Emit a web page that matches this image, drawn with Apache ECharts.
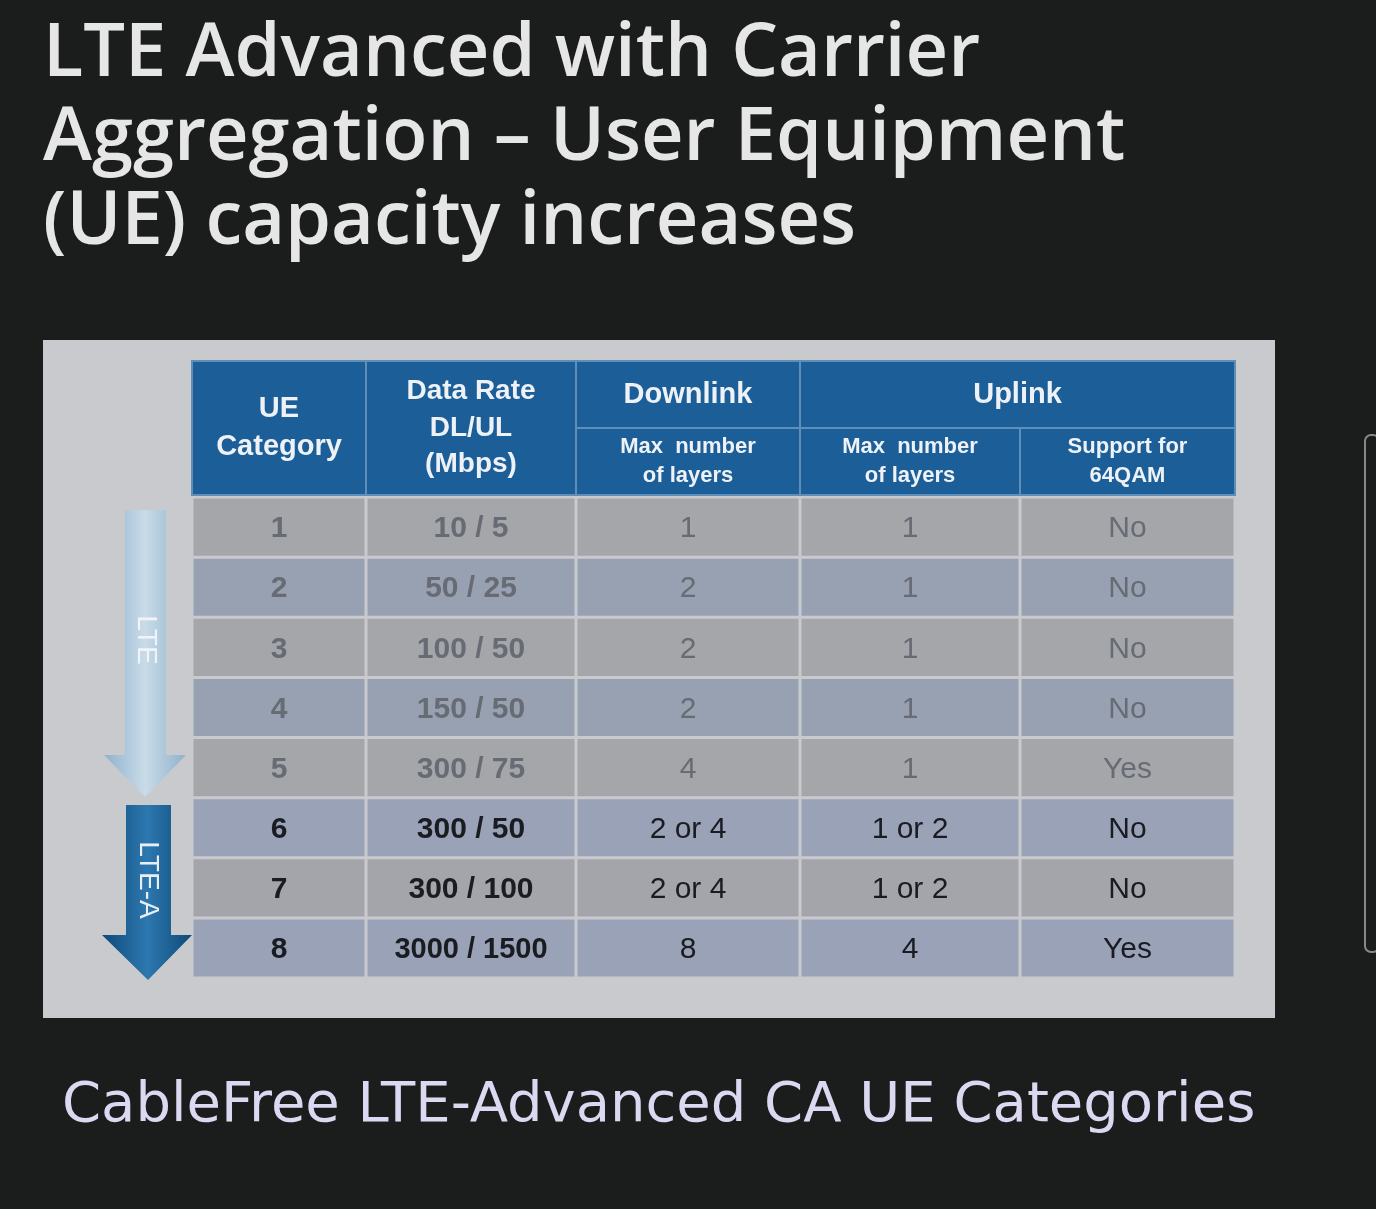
<!DOCTYPE html>
<html><head><meta charset="utf-8">
<script src="https://cdn.jsdelivr.net/npm/echarts@6/dist/echarts.min.js"></script>
<style>html,body{margin:0;background:#1b1d1c}#c{width:1376px;height:1209px}</style>
</head><body><div id="c"></div>
<script>
const titleLines = ['LTE Advanced with Carrier','Aggregation – User Equipment','(UE) capacity increases'];
const caption = 'CableFree LTE-Advanced CA UE Categories';
const categories = ['1','2','3','4','5','6','7','8'];
const dataRate = ['10 / 5','50 / 25','100 / 50','150 / 50','300 / 75','300 / 50','300 / 100','3000 / 1500'];
const dlLayers = ['1','2','2','2','4','2 or 4','2 or 4','8'];
const ulLayers = ['1','1','1','1','1','1 or 2','1 or 2','4'];
const qam64 = ['No','No','No','No','Yes','No','No','Yes'];
const generation = ['LTE','LTE','LTE','LTE','LTE','LTE-A','LTE-A','LTE-A'];
const colWidths = [174,210,224,220,215];
const headerRows = ['top','sub'];
const headerCells = [
  {c0:0,c1:1,r0:0,r1:1,text:'UE\nCategory',size:29},
  {c0:1,c1:2,r0:0,r1:1,text:'Data Rate\nDL/UL\n(Mbps)',size:28},
  {c0:2,c1:3,r0:0,r1:0,text:'Downlink',size:29},
  {c0:3,c1:5,r0:0,r1:0,text:'Uplink',size:29},
  {c0:2,c1:3,r0:1,r1:1,text:'Max  number\nof layers',size:22},
  {c0:3,c1:4,r0:1,r1:1,text:'Max  number\nof layers',size:22},
  {c0:4,c1:5,r0:1,r1:1,text:'Support for\n64QAM',size:22}
];
const edges=[0];colWidths.forEach(w=>edges.push(edges[edges.length-1]+w));
const total=edges[edges.length-1];
const cols=[categories,dataRate,dlLayers,ulLayers,qam64];
const bodyData=[], bodyText=[];
categories.forEach((_,r)=>cols.forEach((col,c)=>{bodyData.push([edges[c],edges[c+1],r,c]);bodyText.push(col[r]);}));
const headData=headerCells.map(h=>[edges[h.c0],edges[h.c1],h.r0,h.r1,h.size]);
const rowFill=['#a4a6aa','#98a1b2','#a4a6aa','#98a1b2','#a4a6aa','#99a2b7','#a3a5aa','#99a2b7'];
const chart=echarts.init(document.getElementById('c'));
const G=3;
chart.setOption({
  backgroundColor:'#1b1d1c',
  title:{text:titleLines.join('\n'),left:38,top:8,textStyle:{color:'#e6e6e6',fontSize:74,fontWeight:600,fontFamily:'Open Sans',lineHeight:84}},
  graphic:[
    {type:'rect',shape:{x:43,y:340,width:1232,height:678},style:{fill:'#c8cacd'},z:-10},
    {type:'text',left:62,top:1078,style:{text:caption,fill:'#dcd8f2',fontSize:56,fontFamily:'DejaVu Sans'}},
    {type:'rect',shape:{x:1365,y:435,width:14,height:517,r:6},style:{fill:'none',stroke:'#888',lineWidth:2}},
    {type:'polygon',shape:{points:[[125,510],[166,510],[166,755],[186,755],[145,797],[104,755],[125,755]]},style:{fill:new echarts.graphic.LinearGradient(0,0,1,0,[{offset:0,color:'#8fb2cc'},{offset:0.5,color:'#c9dbe8'},{offset:1,color:'#8fb2cc'}])}},
    {type:'polygon',shape:{points:[[126,805],[171,805],[171,935],[192,935],[148,980],[102,935],[126,935]]},style:{fill:new echarts.graphic.LinearGradient(0,0,1,0,[{offset:0,color:'#0e4a78'},{offset:0.5,color:'#2d78b0'},{offset:1,color:'#0e4a78'}])}},
    {type:'text',x:146,y:640,rotation:-Math.PI/2,style:{text:'LTE',fill:'#f0f4f8',fontSize:28,fontFamily:'Liberation Sans',align:'center',verticalAlign:'middle'}},
    {type:'text',x:148,y:880,rotation:-Math.PI/2,style:{text:'LTE-A',fill:'#e8eef5',fontSize:28,fontFamily:'Liberation Sans',align:'center',verticalAlign:'middle'}}
  ],
  grid:[{left:192,top:361,width:total,height:134},{left:192,top:497,width:total,height:481}],
  xAxis:[{gridIndex:0,type:'value',min:0,max:total,show:false},{gridIndex:1,type:'value',min:0,max:total,show:false}],
  yAxis:[{gridIndex:0,type:'category',data:headerRows,inverse:true,show:false},{gridIndex:1,type:'category',data:categories,inverse:true,show:false}],
  series:[
    {type:'custom',xAxisIndex:0,yAxisIndex:0,data:headData,renderItem:(p,api)=>{
      const a=api.coord([api.value(0),api.value(2)]),b=api.coord([api.value(1),api.value(3)]);
      const hh=api.size([0,1])[1];
      const x=a[0],y=a[1]-hh/2,w=b[0]-a[0],h=b[1]-a[1]+hh;
      const sz=api.value(4);
      return {type:'group',children:[
        {type:'rect',shape:{x:x,y:y,width:w,height:h},style:{fill:'#1c5e98',stroke:'#5f8fb9',lineWidth:2}},
        {type:'text',style:{x:x+w/2,y:y+h/2,text:headerCells[p.dataIndex].text,fill:'#eef2f6',fontSize:sz,fontWeight:'bold',fontFamily:'Liberation Sans',align:'center',verticalAlign:'middle',lineHeight:sz*1.3}}
      ]};
    }},
    {type:'custom',xAxisIndex:1,yAxisIndex:1,data:bodyData,renderItem:(p,api)=>{
      const r=api.value(2),c=api.value(3);
      const a=api.coord([api.value(0),r]),b=api.coord([api.value(1),r]);
      const hh=api.size([0,1])[1];
      const lteA=generation[r]==='LTE-A';
      return {type:'group',children:[
        {type:'rect',shape:{x:a[0]+G/2,y:a[1]-hh/2+G/2,width:b[0]-a[0]-G,height:hh-G},style:{fill:rowFill[r]}},
        {type:'text',style:{x:(a[0]+b[0])/2,y:a[1]+2,text:bodyText[p.dataIndex],fill:lteA?'#1a1c22':'#676b74',fontSize:c===1&&r===7?29:30,fontWeight:c<2?'bold':'normal',fontFamily:'Liberation Sans',align:'center',verticalAlign:'middle'}}
      ]};
    }}
  ]
});
</script></body></html>
